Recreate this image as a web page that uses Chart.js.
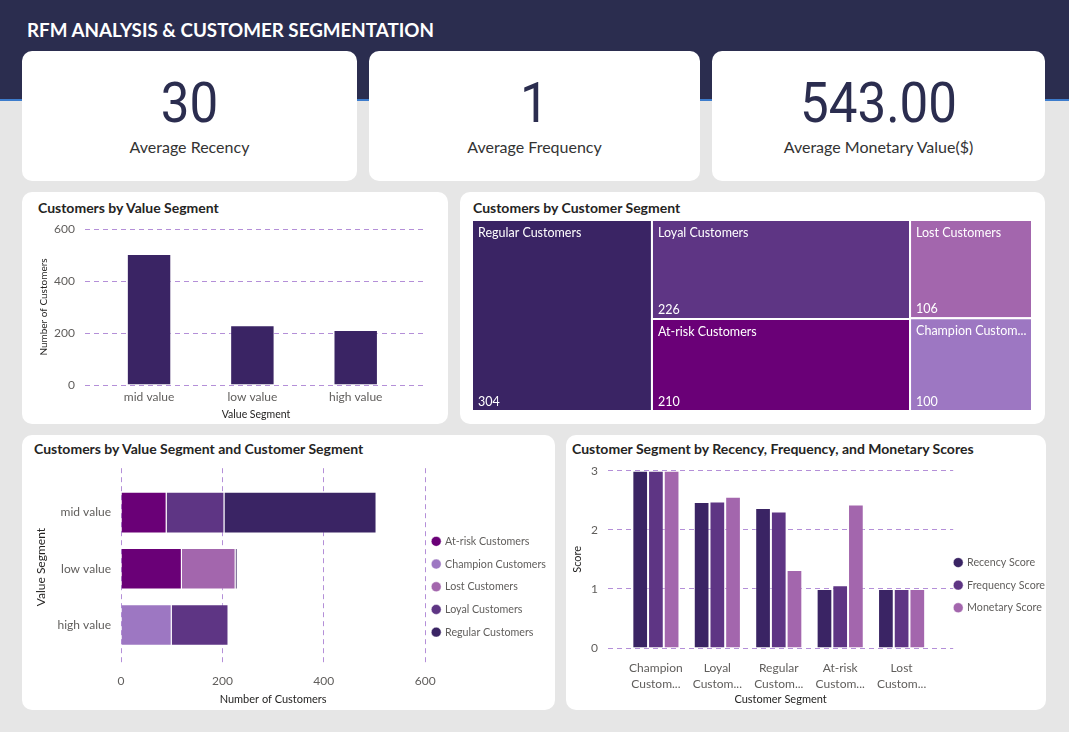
<!DOCTYPE html>
<html lang="en">
<head>
<meta charset="utf-8">
<title>RFM Analysis &amp; Customer Segmentation</title>
<script src="https://cdn.jsdelivr.net/npm/chart.js"></script>
<style>
  body {
    margin: 0;
    width: 1069px;
    height: 732px;
    position: relative;
    overflow: hidden;
    background: #e6e6e6;
    font-family: "Segoe UI", Lato, sans-serif;
  }
  .header {
    position: absolute;
    left: 0; top: 0;
    width: 1069px; height: 99px;
    background: #2b2d4f;
    border-bottom: 2px solid #3d7ccc;
  }
  .header h1 {
    position: absolute;
    left: 27px; top: 18px;
    margin: 0;
    font-size: 18.8px;
    line-height: 24px;
    font-weight: 700;
    color: #fff;
  }
  .card {
    position: absolute;
    background: #fff;
    border-radius: 10px;
  }
  .kpi .num {
    position: absolute;
    left: 0; right: 0; top: 25px;
    text-align: center;
    font-family: Roboto, sans-serif;
    font-size: 55px;
    line-height: 55px;
    color: #2b2d4f;
    transform: scaleX(0.93);
  }
  .kpi .lbl {
    position: absolute;
    left: 0; right: 0; top: 86px;
    text-align: center;
    font-size: 16px;
    line-height: 20px;
    color: #333;
  }
  .ptitle {
    position: absolute;
    font-size: 14px;
    line-height: 16px;
    font-weight: 700;
    color: #252423;
    white-space: nowrap;
  }
  canvas { position: absolute; }
</style>
</head>
<body>
  <div class="header"><h1>RFM ANALYSIS &amp; CUSTOMER SEGMENTATION</h1></div>

  <div class="card kpi" style="left:22px;top:51px;width:335px;height:130px"><div class="num" id="k0"></div><div class="lbl" id="l0"></div></div>
  <div class="card kpi" style="left:369px;top:51px;width:331px;height:130px"><div class="num" id="k1"></div><div class="lbl" id="l1"></div></div>
  <div class="card kpi" style="left:712px;top:51px;width:333px;height:130px"><div class="num" id="k2"></div><div class="lbl" id="l2"></div></div>

  <div class="card" style="left:22px;top:192px;width:426px;height:232px"></div>
  <div class="card" style="left:460px;top:192px;width:585px;height:232px"></div>
  <div class="card" style="left:22px;top:435px;width:533px;height:275px"></div>
  <div class="card" style="left:566px;top:435px;width:480px;height:275px"></div>

  <div class="ptitle" style="left:38px;top:200px">Customers by Value Segment</div>
  <div class="ptitle" style="left:473px;top:200px">Customers by Customer Segment</div>
  <div class="ptitle" style="left:34px;top:441px">Customers by Value Segment and Customer Segment</div>
  <div class="ptitle" style="left:572px;top:441px">Customer Segment by Recency, Frequency, and Monetary Scores</div>

  <canvas id="valueChart" width="426" height="206" style="left:22px;top:218px"></canvas>
  <canvas id="treeChart" width="585" height="206" style="left:460px;top:214px"></canvas>
  <canvas id="stackChart" width="534" height="257" style="left:22px;top:460px"></canvas>
  <canvas id="scoreChart" width="491" height="253" style="left:566px;top:460px"></canvas>

<script>
  // KPI cards
  const kpiLabels = ['Average Recency', 'Average Frequency', 'Average Monetary Value($)'];
  const kpiValues = ['30', '1', '543.00'];

  // customers by value segment
  const valueSegments = ['mid value', 'low value', 'high value'];
  const valueSegmentCounts = [504, 230, 212];

  // customers by customer segment (treemap)
  const customerSegments = ['Regular Customers', 'Loyal Customers', 'At-risk Customers', 'Lost Customers', 'Champion Customers'];
  const customerSegmentCounts = [304, 226, 210, 106, 100];
  const treemapColumns = [
    ['Regular Customers'],
    ['Loyal Customers', 'At-risk Customers'],
    ['Lost Customers', 'Champion Customers']
  ];

  // value segment x customer segment (stacked), in order mid / low / high
  const stackSegments = ['At-risk Customers', 'Champion Customers', 'Lost Customers', 'Loyal Customers', 'Regular Customers'];
  const atRiskByValue = [90, 120, null];
  const championByValue = [null, null, 100];
  const lostByValue = [null, 106, null];
  const loyalByValue = [114, null, 112];
  const regularByValue = [300, 4, null];

  // RFM scores by customer segment
  const scoreTickLabels = [['Champion', 'Custom...'], ['Loyal', 'Custom...'], ['Regular', 'Custom...'], ['At-risk', 'Custom...'], ['Lost', 'Custom...']];
  const scoreNames = ['Recency Score', 'Frequency Score', 'Monetary Score'];
  const recencyScore = [3, 2.47, 2.37, 1, 1];
  const frequencyScore = [3, 2.48, 2.31, 1.06, 1];
  const monetaryScore = [3, 2.56, 1.32, 2.43, 1];

  // colours
  const segColors = {
    'Regular Customers': '#3a2464',
    'Loyal Customers': '#5e3584',
    'At-risk Customers': '#6a0077',
    'Lost Customers': '#a366ad',
    'Champion Customers': '#9d77c2'
  };
  const scoreColors = ['#3a2464', '#5e3584', '#a366ad'];
  const gridColor = '#b48fd8';
  const gridDash = [5, 4];
  const barEdge = 'rgba(255,255,255,0.45)';
  const titleColor = '#252423';

  kpiValues.forEach((v, i) => {
    document.getElementById('k' + i).textContent = v;
    document.getElementById('l' + i).textContent = kpiLabels[i];
  });

  Chart.defaults.font.family = '"Segoe UI", Lato, sans-serif';
  Chart.defaults.color = '#605e5c';
  Chart.defaults.animation = false;
  Chart.defaults.plugins.tooltip.enabled = false;

  // legend items as one-line arrays so the row height follows the font lineHeight
  const legendLabels = chart =>
    Chart.defaults.plugins.legend.labels.generateLabels(chart).map(l => ({ ...l, text: [l.text] }));

  // --- Customers by Value Segment ---
  new Chart(document.getElementById('valueChart'), {
    type: 'bar',
    data: {
      datasets: [{
        data: valueSegmentCounts.map((v, i) => ({ x: i, y: v })),
        backgroundColor: '#3a2464',
        borderColor: barEdge,
        borderWidth: 1,
        categoryPercentage: 1,
        barPercentage: 0.43
      }]
    },
    options: {
      responsive: false,
      layout: { padding: { left: 12, right: 21, top: 11, bottom: 0 } },
      plugins: { legend: { display: false } },
      scales: {
        x: {
          type: 'linear', offset: false, min: -0.62, max: 2.69,
          grid: { display: false, offset: false, drawTicks: false }, border: { display: false },
          ticks: { stepSize: 1, includeBounds: false, padding: 5, maxRotation: 0, font: { size: 12 },
                   callback: v => valueSegments[v] ?? '' },
          title: { display: true, text: 'Value Segment', color: titleColor, font: { size: 10.5 }, padding: { top: 0, bottom: 3.5 } },
          afterFit: s => { s.height = 39; }
        },
        y: {
          min: 0, max: 600,
          grid: { color: gridColor, tickLength: 9, tickColor: 'transparent' },
          border: { display: false, dash: gridDash },
          ticks: { stepSize: 200, padding: 1, font: { size: 12 } },
          title: { display: true, text: 'Number of Customers', color: titleColor, font: { size: 10 } },
          afterFit: s => { s.width = 51; }
        }
      }
    }
  });

  // --- Customers by Customer Segment (treemap drawn on the chart scales) ---
  const treemapPlugin = {
    id: 'treemap',
    afterDraw(chart) {
      const { ctx, scales: { x, y } } = chart;
      let x0 = 0;
      ctx.save();
      treemapColumns.forEach(col => {
        const vals = col.map(n => customerSegmentCounts[customerSegments.indexOf(n)]);
        const colSum = vals.reduce((a, b) => a + b, 0);
        let y0 = 0;
        col.forEach((name, k) => {
          const left = x.getPixelForValue(x0);
          const right = x.getPixelForValue(x0 + colSum);
          const top = y.getPixelForValue(y0);
          const bottom = y.getPixelForValue(y0 + vals[k] / colSum);
          ctx.fillStyle = segColors[name];
          ctx.fillRect(left, top, right - left, bottom - top);
          ctx.strokeStyle = '#fff';
          ctx.lineWidth = 2;
          ctx.strokeRect(left, top, right - left, bottom - top);

          ctx.fillStyle = '#fff';
          ctx.font = '12.5px "Segoe UI", Lato, sans-serif';
          ctx.textBaseline = 'middle';
          let label = name;
          const maxW = right - left - 8;
          if (ctx.measureText(label).width > maxW) {
            while (label.length && ctx.measureText(label + '...').width > maxW) label = label.slice(0, -1);
            label += '...';
          }
          ctx.fillText(label, left + 6, top + 13);
          ctx.fillText(String(vals[k]), left + 6, bottom - 9);
          y0 += vals[k] / colSum;
        });
        x0 += colSum;
      });
      ctx.restore();
    }
  };

  new Chart(document.getElementById('treeChart'), {
    type: 'scatter',
    data: { datasets: [] },
    options: {
      responsive: false,
      layout: { padding: { left: 12, right: 13, top: 6, bottom: 9 } },
      plugins: { legend: { display: false } },
      scales: {
        x: { type: 'linear', display: false, min: 0, max: customerSegmentCounts.reduce((a, b) => a + b, 0) },
        y: { type: 'linear', display: false, min: 0, max: 1, reverse: true }
      }
    },
    plugins: [treemapPlugin]
  });

  // --- Customers by Value Segment and Customer Segment ---
  const stackValues = [atRiskByValue, championByValue, lostByValue, loyalByValue, regularByValue];
  new Chart(document.getElementById('stackChart'), {
    type: 'bar',
    data: {
      datasets: stackSegments.map((name, k) => ({
        label: name,
        data: stackValues[k].map((v, i) => ({ x: v, y: i })).filter(p => p.x != null),
        backgroundColor: segColors[name],
        borderColor: barEdge,
        borderWidth: 1,
        categoryPercentage: 1,
        barPercentage: 0.74
      }))
    },
    options: {
      responsive: false,
      indexAxis: 'y',
      layout: { padding: { left: 7.6, right: 0, top: 8, bottom: 7 } },
      plugins: {
        legend: {
          position: 'right',
          labels: { usePointStyle: true, pointStyle: 'circle', boxWidth: 7, boxHeight: 7, padding: 7.5,
                    color: '#605e5c', font: { size: 10.7, lineHeight: 1.42 }, generateLabels: legendLabels }
        }
      },
      scales: {
        x: {
          stacked: true, min: 0, max: 600,
          grid: { color: gridColor, drawTicks: false },
          border: { display: false, dash: gridDash },
          ticks: { stepSize: 200, padding: 7.5, font: { size: 12 } },
          title: { display: true, text: 'Number of Customers', color: titleColor, font: { size: 11 }, padding: { top: 0, bottom: 4.4 } },
          afterFit: s => { s.height = 44; }
        },
        y: {
          type: 'linear', stacked: true, reverse: true, offset: false, min: -0.79, max: 2.73,
          grid: { display: false, offset: false, tickLength: 9 }, border: { display: false },
          ticks: { stepSize: 1, includeBounds: false, padding: 1, font: { size: 12 },
                   callback: v => valueSegments[v] ?? '' },
          title: { display: true, text: 'Value Segment', color: titleColor, font: { size: 12 } },
          afterFit: s => { s.width = 91.4; }
        }
      }
    }
  });

  // --- Customer Segment by Recency, Frequency, and Monetary Scores ---
  const scoreValues = [recencyScore, frequencyScore, monetaryScore];
  new Chart(document.getElementById('scoreChart'), {
    type: 'bar',
    data: {
      datasets: scoreNames.map((name, k) => ({
        label: name,
        data: scoreValues[k].map((v, i) => ({ x: i, y: v })),
        backgroundColor: scoreColors[k],
        borderColor: barEdge,
        borderWidth: 1,
        categoryPercentage: 0.767,
        barPercentage: 1
      }))
    },
    options: {
      responsive: false,
      layout: { padding: { left: 1, right: 2, top: 10.7, bottom: 3 } },
      plugins: {
        legend: {
          position: 'right',
          labels: { usePointStyle: true, pointStyle: 'circle', boxWidth: 7, boxHeight: 7, padding: 1.5,
                    color: '#605e5c', font: { size: 10.7, lineHeight: 1.97 }, generateLabels: legendLabels }
        }
      },
      scales: {
        x: {
          type: 'linear', offset: false, min: -0.78, max: 4.84,
          grid: { display: false, offset: false, drawTicks: false }, border: { display: false },
          ticks: { stepSize: 1, includeBounds: false, padding: 12, maxRotation: 0, font: { size: 12, lineHeight: 1.33 },
                   callback: v => scoreTickLabels[v] ?? '' },
          title: { display: true, text: 'Customer Segment', color: titleColor, font: { size: 11 }, padding: { top: 0, bottom: 4 } },
          afterFit: s => { s.height = 62; }
        },
        y: {
          min: 0, max: 3,
          grid: { color: gridColor, tickLength: 9, tickColor: 'transparent' },
          border: { display: false, dash: gridDash },
          ticks: { stepSize: 1, padding: 1, font: { size: 12 } },
          title: { display: true, text: 'Score', color: titleColor, font: { size: 11 } },
          afterFit: s => { s.width = 41; }
        }
      }
    }
  });
</script>
</body>
</html>
